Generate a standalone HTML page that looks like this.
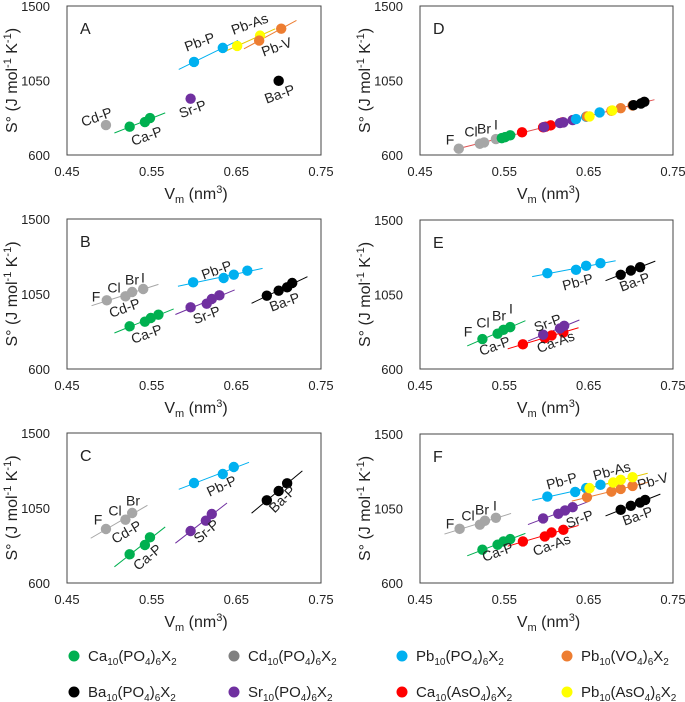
<!DOCTYPE html>
<html><head><meta charset="utf-8"><style>
body{margin:0;background:#fff;}
svg{display:block;font-family:"Liberation Sans",sans-serif;}
</style></head><body>
<svg id="fig" width="685" height="702" viewBox="0 0 685 702"></svg>
<script>
const C={Ca:'#00b050',Cd:'#a6a6a6',Pb:'#00b0f0',PbV:'#ed7d31',Ba:'#000000',Sr:'#7030a0',CaAs:'#ff0000',PbAs:'#ffff00'};
// panel A
const aCdX=[0.496], aCdY=[781];
const aCaX=[0.524,0.542,0.548], aCaY=[771,799,823];
const aSrX=[0.596], aSrY=[940];
const aPbX=[0.600,0.634], aPbY=[1162,1247];
const aPbAsX=[0.651,0.678], aPbAsY=[1259,1321];
const aPbVX=[0.677,0.703], aPbVY=[1291,1363];
const aBaX=[0.700], aBaY=[1048];
// panel B
const bCdX=[0.497,0.519,0.527,0.540], bCdY=[1012,1036,1062,1080];
const bCaX=[0.524,0.542,0.549,0.558], bCaY=[856,884,906,926];
const bSrX=[0.596,0.615,0.621,0.630], bSrY=[970,992,1020,1042];
const bPbX=[0.599,0.635,0.647,0.663], bPbY=[1120,1146,1166,1190];
const bBaX=[0.686,0.700,0.710,0.716], bBaY=[1040,1070,1090,1116];
// panel C
const cCdX=[0.496,0.519,0.527], cCdY=[924,980,1020];
const cCaX=[0.524,0.542,0.548], cCaY=[772,828,874];
const cSrX=[0.596,0.614,0.621], cSrY=[912,974,1014];
const cPbX=[0.600,0.634,0.647], cPbY=[1200,1254,1296];
const cBaX=[0.686,0.700,0.710], cBaY=[1096,1152,1198];
// panel D
const dCdX=[0.496,0.521,0.526,0.540], dCdY=[638,668,676,696];
const dCaX=[0.547,0.551,0.557], dCaY=[702,708,719];
const dCaAsX=[0.571,0.596,0.599,0.605,0.619], dCaAsY=[737,767,771,779,797];
const dSrX=[0.597,0.616,0.620,0.631], dSrY=[769,793,797,811];
const dPbX=[0.635,0.647,0.663], dPbY=[817,831,857];
const dPbAsX=[0.651,0.678], dPbAsY=[833,869];
const dPbVX=[0.648,0.677,0.688,0.702], dPbVY=[833,867,883,899];
const dBaX=[0.703,0.712,0.716], dBaY=[901,911,921];
// panel E
const eCaX=[0.524,0.542,0.549,0.557], eCaY=[781,813,837,853];
const eCaAsX=[0.572,0.598,0.606,0.620], eCaAsY=[749,787,803,821];
const eSrX=[0.596,0.616,0.621], eSrY=[807,845,861];
const ePbX=[0.601,0.635,0.647,0.664], ePbY=[1179,1199,1223,1239];
const eBaX=[0.688,0.700,0.711], eBaY=[1169,1195,1215];
// panel F
const fCdX=[0.497,0.521,0.527,0.540], fCdY=[927,952,976,994];
const fCaX=[0.524,0.542,0.549,0.557], fCaY=[801,831,851,865];
const fCaAsX=[0.572,0.598,0.606,0.620], fCaAsY=[851,881,905,921];
const fSrX=[0.596,0.614,0.622,0.631], fSrY=[990,1018,1038,1058];
const fPbX=[0.601,0.634,0.647,0.664], fPbY=[1122,1150,1173,1193];
const fPbAsX=[0.651,0.679,0.688,0.702], fPbAsY=[1173,1207,1223,1239];
const fPbVX=[0.648,0.677,0.688,0.702], fPbVY=[1118,1152,1168,1186];
const fBaX=[0.688,0.700,0.711,0.717], fBaY=[1042,1066,1086,1102];
const xTicks=[0.45,0.55,0.65,0.75], yTicks=[600,1050,1500];

const NS='http://www.w3.org/2000/svg', svg=document.getElementById('fig');
function mk(tag,at,parent){const e=document.createElementNS(NS,tag);for(const k in at)e.setAttribute(k,at[k]);(parent||svg).appendChild(e);return e;}
const panels=[
 {id:'a',L:'A',l:67,r:321,t:6,b:155,s:[[aCdX,aCdY,C.Cd],[aCaX,aCaY,C.Ca],[aSrX,aSrY,C.Sr],[aPbX,aPbY,C.Pb],[aPbAsX,aPbAsY,C.PbAs],[aPbVX,aPbVY,C.PbV],[aBaX,aBaY,C.Ba]],
  lab:[['Cd-P',97,118,-20],['Ca-P',147,137,-20],['Sr-P',193,110,-20],['Pb-P',200,43,-20],['Pb-As',250,25,-20],['Pb-V',277,48,-20],['Ba-P',280,95,-20]]},
 {id:'b',L:'B',l:67,r:321,t:219,b:369,s:[[bCdX,bCdY,C.Cd],[bCaX,bCaY,C.Ca],[bSrX,bSrY,C.Sr],[bPbX,bPbY,C.Pb],[bBaX,bBaY,C.Ba]],
  lab:[['F',96,298,0],['Cl',114,289,0],['Br',132,281,0],['I',143,279,0],['Cd-P',125,309,-20],['Ca-P',147,335,-20],['Sr-P',207,316,-20],['Pb-P',217,271,-20],['Ba-P',285,303,-20]]},
 {id:'c',L:'C',l:67,r:321,t:433,b:583,s:[[cCdX,cCdY,C.Cd],[cCaX,cCaY,C.Ca],[cSrX,cSrY,C.Sr],[cPbX,cPbY,C.Pb],[cBaX,cBaY,C.Ba]],
  lab:[['F',98,521,0],['Cl',115,512,0],['Br',133,502,0],['Cd-P',127,533,-30],['Ca-P',148,558,-40],['Sr-P',207,532,-40],['Pb-P',222,487,-25],['Ba-P',283,500,-45]]},
 {id:'d',L:'D',l:420,r:673,t:6,b:155,s:[[dCdX,dCdY,C.Cd],[dCaX,dCaY,C.Ca],[dCaAsX,dCaAsY,C.CaAs],[dSrX,dSrY,C.Sr],[dPbX,dPbY,C.Pb],[dPbVX,dPbVY,C.PbV],[dPbAsX,dPbAsY,C.PbAs],[dBaX,dBaY,C.Ba]],
  lab:[['F',450,141,0],['Cl',471,133,0],['Br',484,130,0],['I',496,126,0]],one:true},
 {id:'e',L:'E',l:420,r:673,t:220,b:369,s:[[eCaX,eCaY,C.Ca],[eCaAsX,eCaAsY,C.CaAs],[eSrX,eSrY,C.Sr],[ePbX,ePbY,C.Pb],[eBaX,eBaY,C.Ba]],
  lab:[['F',468,333,0],['Cl',483,324,0],['Br',499,317,0],['I',511,310,0],['Ca-P',495,347,-20],['Sr-P',548,324,-20],['Ca-As',556,343,-20],['Pb-P',578,283,-15],['Ba-P',635,283,-20]]},
 {id:'f',L:'F',l:420,r:673,t:434,b:583,s:[[fCdX,fCdY,C.Cd],[fCaX,fCaY,C.Ca],[fCaAsX,fCaAsY,C.CaAs],[fSrX,fSrY,C.Sr],[fPbX,fPbY,C.Pb],[fPbVX,fPbVY,C.PbV],[fPbAsX,fPbAsY,C.PbAs],[fBaX,fBaY,C.Ba]],
  lab:[['F',450,525,0],['Cl',468,517,0],['Br',482,511,0],['I',495,507,0],['Ca-P',498,553,-20],['Ca-As',552,546,-20],['Sr-P',580,520,-20],['Pb-P',562,482,-15],['Pb-As',612,472,-15],['Pb-V',653,482,-15],['Ba-P',638,517,-20]]}
];
function fit(X,Y){const n=X.length;let mx=0,my=0;X.forEach((v,i)=>{mx+=v;my+=Y[i];});mx/=n;my/=n;let sxx=0,sxy=0;X.forEach((v,i)=>{sxx+=(v-mx)**2;sxy+=(v-mx)*(Y[i]-my);});const m=sxx?sxy/sxx:0;return [m,my-m*mx];}
panels.forEach(p=>{
 const g=mk('g',{});
 
 
 const sx=v=>p.l+(v-0.45)/0.3*(p.r-p.l), sy=v=>p.b-(v-600)/900*(p.b-p.t);
 const box=mk('rect',{x:p.l,y:p.t,width:p.r-p.l,height:p.b-p.t,fill:'none',stroke:'#444','stroke-width':1},g);
 
 
 xTicks.forEach(v=>{const t=mk('text',{x:sx(v),y:p.b+21,'text-anchor':'middle','font-size':13,fill:'#222'},g);t.textContent=v.toFixed(2);
  
  });
 yTicks.forEach(v=>{const t=mk('text',{x:p.l-17,y:sy(v)+5,'text-anchor':'end','font-size':13,fill:'#222'},g);t.textContent=v;
  
  });
 const xt=mk('text',{x:(p.l+p.r)/2+2,y:p.b+44,'text-anchor':'middle','font-size':16,fill:'#222'},g);
 xt.innerHTML='V<tspan font-size="11" dy="4">m</tspan><tspan dy="-4"> (nm</tspan><tspan font-size="11" dy="-6">3</tspan><tspan dy="6">)</tspan>';
 
 
 const cx=p.l-50, cy=(p.t+p.b)/2;
 const yt=mk('text',{x:cx,y:cy,'text-anchor':'middle','font-size':16,fill:'#222',transform:`rotate(-90 ${cx} ${cy})`},g);
 yt.innerHTML='S° (J mol<tspan font-size="11" dy="-6">-1</tspan><tspan dy="6"> K</tspan><tspan font-size="11" dy="-6">-1</tspan><tspan dy="6">)</tspan>';
 
 
 const lt=mk('text',{x:p.l+13,y:p.t+28,'font-size':16,fill:'#222'},g);lt.textContent=p.L;
 
 
 if(p.one){const ax=[],ay=[];p.s.forEach(s=>{ax.push(...s[0]);ay.push(...s[1]);});const [m,b]=fit(ax,ay);
  const ln=mk('line',{x1:sx(0.49),y1:sy(m*0.49+b),x2:sx(0.728),y2:sy(m*0.728+b),stroke:'#e05050','stroke-width':1},g);
  
  }
 else p.s.forEach(s=>{if(s[0].length<2)return;const [m,b]=fit(s[0],s[1]);const x0=Math.min(...s[0])-0.018,x1=Math.max(...s[0])+0.018;
  const ln=mk('line',{x1:sx(x0),y1:sy(m*x0+b),x2:sx(x1),y2:sy(m*x1+b),stroke:s[2]==='#ffff00'?'#e6c800':s[2],'stroke-width':1},g);
  
  });
 p.s.forEach(s=>s[0].forEach((v,i)=>{const c=mk('circle',{cx:sx(v),cy:sy(s[1][i]),r:5.2,fill:s[2]},g);
  
  }));
 p.lab.forEach(l=>{const t=mk('text',{x:l[1],y:l[2],'text-anchor':'middle','dominant-baseline':'middle','font-size':14,fill:'#222',transform:`rotate(${l[3]} ${l[1]} ${l[2]})`},g);t.textContent=l[0];
  
  });
});
const leg=[['#00b050','Ca','PO',74,656],['#808080','Cd','PO',234,656],['#00b0f0','Pb','PO',402,656],['#ed7d31','Pb','VO',567,656],
 ['#000','Ba','PO',74,692],['#7030a0','Sr','PO',234,692],['#ff0000','Ca','AsO',402,692],['#ffff00','Pb','AsO',567,692]];
leg.forEach(e=>{const g=mk('g',{});
 
 
 mk('circle',{cx:e[3],cy:e[4],r:5.5,fill:e[0]},g);
 const t=mk('text',{x:e[3]+14,y:e[4]+5,'font-size':15,fill:'#222'},g);
 t.innerHTML=`${e[1]}<tspan font-size="10" dy="4">10</tspan><tspan dy="-4">(${e[2]}</tspan><tspan font-size="10" dy="4">4</tspan><tspan dy="-4">)</tspan><tspan font-size="10" dy="4">6</tspan><tspan dy="-4">X</tspan><tspan font-size="10" dy="4">2</tspan>`;});
</script>
</body></html>
